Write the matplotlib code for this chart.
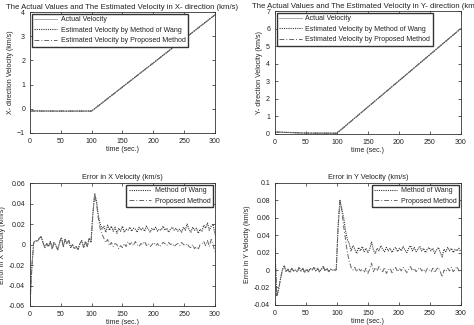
import numpy as np
import matplotlib
matplotlib.use('Agg')
import matplotlib.pyplot as plt

plt.rcParams.update({
    "font.family": ["Liberation Sans", "DejaVu Sans"],
    "font.size": 5,
    "xtick.labelsize": 5,
    "ytick.labelsize": 5,
    "xtick.direction": "in",
    "ytick.direction": "in",
    "xtick.top": True,
    "ytick.right": True,
    "xtick.major.size": 2,
    "ytick.major.size": 2,
    "xtick.major.width": 0.5,
    "ytick.major.width": 0.5,
    "axes.linewidth": 0.6,
    "axes.edgecolor": "#333333",
    "text.color": "#222222",
    "axes.labelcolor": "#222222",
    "xtick.color": "#222222",
    "ytick.color": "#222222",
})

# velocity profiles (break points)
t_vel = [0, 50, 100, 300]
vx_actual = [-0.1, -0.1, -0.1, 3.88]
vx_wang = [-0.08, -0.1, -0.09, 3.88]
vx_prop = [-0.1, -0.09, -0.1, 3.88]
vy_actual = [0.1, 0.05, 0.05, 6.0]
vy_wang = [0.12, 0.04, 0.04, 6.0]
vy_prop = [0.1, 0.05, 0.03, 6.0]

# error samples every 3 s; before 100 s both estimators agree
t_err = np.arange(0, 301, 3)

ex_common = [-0.058, -0.022, 0.002, 0.004, 0.003, 0.006, 0.008, 0.002, -0.003, 0.001,
             -0.002, 0.003, -0.004, 0.002, -0.001, -0.005, 0.002, 0.007, -0.002, 0.005,
             0.001, 0.004, -0.003, 0.000, -0.004, -0.002, -0.005, 0.001, 0.004, -0.003,
             0.003, -0.002, 0.006, 0.002]
ex_wang_tail = [0.03, 0.05, 0.042, 0.028, 0.02, 0.015, 0.018, 0.012, 0.019, 0.014,
                0.018, 0.013, 0.017, 0.011, 0.016, 0.013, 0.018, 0.012, 0.015, 0.014,
                0.017, 0.013, 0.016, 0.015, 0.012, 0.017, 0.014, 0.016, 0.013, 0.018,
                0.015, 0.012, 0.016, 0.014, 0.017, 0.013, 0.015, 0.014, 0.018, 0.014,
                0.016, 0.012, 0.015, 0.017, 0.014, 0.016, 0.013, 0.015, 0.012, 0.017,
                0.014, 0.02, 0.015, 0.012, 0.017, 0.014, 0.016, 0.011, 0.015, 0.013,
                0.019, 0.016, 0.021, 0.014, 0.018, 0.02, 0.01]
ex_prop_tail = [0.03, 0.049, 0.04, 0.025, 0.015, 0.01, 0.006, 0.002, 0.005, -0.001,
                0.002, -0.002, 0.001, 0.0, -0.004, -0.001, -0.003, 0.001, -0.002, 0.003,
                0.0, 0.002, -0.001, 0.003, 0.0, -0.002, 0.001, 0.0, 0.003, -0.001,
                0.001, -0.002, 0.0, 0.002, -0.001, 0.001, -0.002, 0.0, 0.002, 0.001,
                -0.001, 0.002, 0.0, 0.001, -0.002, 0.0, 0.001, -0.001, 0.002, 0.0,
                -0.001, 0.001, -0.002, -0.003, 0.0, -0.004, -0.002, -0.005, 0.0, 0.001,
                0.003, -0.001, 0.004, -0.002, 0.005, 0.0, -0.007]

ey_common = [0.025, -0.03, -0.022, -0.01, 0.0, 0.005, -0.002, 0.001, -0.003, 0.002,
             -0.001, 0.0, -0.002, 0.003, -0.001, 0.002, -0.003, 0.001, -0.002, 0.002,
             0.0, 0.003, -0.001, 0.002, -0.002, 0.001, 0.004, -0.001, 0.002, -0.002,
             0.001, 0.0, 0.0, 0.0]
ey_wang_tail = [0.05, 0.08, 0.07, 0.06, 0.045, 0.035, 0.03, 0.022, 0.028, 0.024,
                0.019, 0.026, 0.022, 0.027, 0.021, 0.025, 0.02, 0.024, 0.032, 0.023,
                0.019, 0.025, 0.022, 0.028, 0.024, 0.021, 0.026, 0.022, 0.025, 0.02,
                0.024, 0.026, 0.021, 0.025, 0.022, 0.027, 0.023, 0.02, 0.025, 0.028,
                0.022, 0.026, 0.021, 0.024, 0.027, 0.022, 0.025, 0.02, 0.024, 0.026,
                0.022, 0.025, 0.019, 0.023, 0.026, 0.02, 0.015, 0.024, 0.021, 0.026,
                0.022, 0.025, 0.02, 0.024, 0.022, 0.025, 0.021]
ey_prop_tail = [0.05, 0.08, 0.068, 0.05, 0.035, 0.02, 0.01, 0.003, 0.0, 0.003,
                -0.002, 0.002, -0.001, 0.001, -0.003, 0.002, -0.004, 0.001, 0.008, -0.002,
                0.003, -0.001, 0.004, 0.0, -0.002, 0.003, -0.004, 0.0, 0.002, -0.003,
                0.001, 0.003, -0.002, 0.002, -0.001, 0.003, 0.0, -0.003, 0.001, 0.004,
                -0.001, 0.002, -0.002, 0.001, 0.003, -0.001, 0.001, -0.003, 0.002, 0.0,
                -0.002, 0.002, -0.003, 0.001, 0.003, -0.002, -0.008, 0.0, -0.002, 0.002,
                -0.001, 0.003, -0.002, 0.001, 0.004, -0.001, 0.0]

ex_wang = ex_common + ex_wang_tail
ex_prop = ex_common + ex_prop_tail
ey_wang = ey_common + ey_wang_tail
ey_prop = ey_common + ey_prop_tail

fig = plt.figure(figsize=(4.74, 3.25), dpi=100)
ax_vx = fig.add_axes([0.0633, 0.591, 0.390, 0.372])
ax_vy = fig.add_axes([0.580, 0.588, 0.392, 0.378])
ax_ex = fig.add_axes([0.0633, 0.0585, 0.390, 0.378])
ax_ey = fig.add_axes([0.580, 0.062, 0.392, 0.375])

solid_kw = dict(color='#aaaaaa', lw=0.7, ls='-')
dot_kw = dict(color='#333333', lw=0.8, ls=(0, (1, 1)))
dashdot_kw = dict(color='#666666', lw=0.7, ls=(0, (5, 2, 1, 2)))

leg_kw = dict(frameon=True, fancybox=False, edgecolor='#333333', framealpha=1,
              handlelength=3.3, handletextpad=0.5, borderaxespad=0.25,
              labelspacing=0.5, borderpad=0.35, fontsize=5)

def velocity_panel(ax, actual, wang, prop, ylim, yticks, title, ylabel):
    ax.plot(t_vel, actual, label='Actual Velocity', **solid_kw)
    ax.plot(t_vel, wang, label='Estimated Velocity by Method of Wang', **dot_kw)
    ax.plot(t_vel, prop, label='Estimated Velocity by Proposed Method', **dashdot_kw)
    ax.set_xlim(0, 300)
    ax.set_ylim(*ylim)
    ax.set_yticks(yticks)
    ax.set_xticks(range(0, 301, 50))
    ax.set_title(title, fontsize=5.6, pad=2.5)
    ax.set_ylabel(ylabel, labelpad=2)
    ax.set_xlabel('time (sec.)', labelpad=1)
    ax.legend(loc='upper left', **leg_kw)

def error_panel(ax, wang, prop, ylim, yticks, ticklabels, title, ylabel):
    ax.plot(t_err, wang, label='Method of Wang', **dot_kw)
    ax.plot(t_err, prop, label='Proposed Method', **dashdot_kw)
    ax.set_xlim(0, 300)
    ax.set_ylim(*ylim)
    ax.set_yticks(yticks)
    ax.set_yticklabels(ticklabels)
    ax.set_xticks(range(0, 301, 50))
    ax.set_title(title, fontsize=5.3, pad=3)
    ax.set_ylabel(ylabel, labelpad=2)
    ax.set_xlabel('time (sec.)', labelpad=1)
    ax.legend(loc='upper right', **leg_kw)

velocity_panel(ax_vx, vx_actual, vx_wang, vx_prop, (-1, 4), range(-1, 5),
               'The Actual Values and The Estimated Velocity in X- direction (km/s)',
               'X- direction Velocity (km/s)')
velocity_panel(ax_vy, vy_actual, vy_wang, vy_prop, (0, 7), range(0, 8),
               'The Actual Values and The Estimated Velocity in Y- direction (km/s)',
               'Y- direction Velocity (km/s)')

x_ticks = [-0.06, -0.04, -0.02, 0, 0.02, 0.04, 0.06]
error_panel(ax_ex, ex_wang, ex_prop, (-0.06, 0.06), x_ticks,
            ['-0.06', '-0.04', '-0.02', '0', '0.02', '0.04', '0.06'],
            'Error in X Velocity (km/s)', 'Error in X Velocity (km/s)')
y_ticks = [-0.04, -0.02, 0, 0.02, 0.04, 0.06, 0.08, 0.1]
error_panel(ax_ey, ey_wang, ey_prop, (-0.04, 0.1), y_ticks,
            ['-0.04', '-0.02', '0', '0.02', '0.04', '0.06', '0.08', '0.1'],
            'Error in Y Velocity (km/s)', 'Error in Y Velocity (km/s)')

fig.savefig('out.png', dpi=100, facecolor='white')
